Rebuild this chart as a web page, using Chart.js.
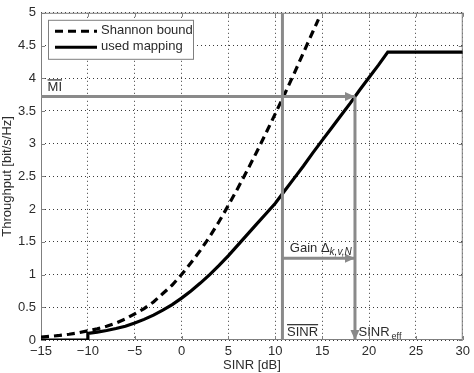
<!DOCTYPE html>
<html>
<head>
<meta charset="utf-8">
<script src="https://cdn.jsdelivr.net/npm/chart.js@4.4.0/dist/chart.umd.min.js"></script>
<style>
  html, body { margin: 0; padding: 0; background: #fff; }
</style>
</head>
<body>
<canvas id="throughputChart" width="474" height="373"></canvas>
<script>
// Shannon bound (dashed)
const shannonSinr = [-15, -14, -13, -12, -11, -10, -9, -8, -7, -6, -5, -4, -3, -2, -1, 0,
  1, 2, 3, 4, 5, 6, 7, 8, 9, 10, 11, 12, 13, 14, 14.6];
const shannonThroughput = [0.045, 0.056, 0.07, 0.088, 0.11, 0.14, 0.17, 0.21, 0.26, 0.32, 0.4, 0.48, 0.58, 0.71, 0.84, 1.0,
  1.18, 1.37, 1.58, 1.81, 2.06, 2.32, 2.59, 2.87, 3.16, 3.46, 3.76, 4.07, 4.39, 4.71, 4.9];

// used mapping (solid)
const mappingSinr = [-15, -10, -10, -9, -8, -7, -6, -5, -4, -3, -2, -1, 0,
  1, 2, 3, 4, 5, 6, 7, 8, 9, 10, 11, 12, 13, 14, 15, 16, 17, 18, 19, 20, 21, 22, 30];
const mappingThroughput = [0, 0, 0.1, 0.12, 0.145, 0.175, 0.21, 0.26, 0.315, 0.38, 0.455, 0.54, 0.64,
  0.75, 0.87, 1.0, 1.14, 1.29, 1.45, 1.61, 1.77, 1.93, 2.09, 2.28, 2.47, 2.66, 2.86, 3.05, 3.24, 3.43, 3.62, 3.82, 4.01, 4.2, 4.4, 4.4];

// grey construction lines: mean MI level, mean SINR, effective SINR, gain arrow level
const miLevel = [3.72];
const sinrMean = [10.76];
const sinrEff = [18.5];
const gainLevel = [1.25];

const xTicks = [-15, -10, -5, 0, 5, 10, 15, 20, 25, 30];
const yTicks = [0, 0.5, 1, 1.5, 2, 2.5, 3, 3.5, 4, 4.5, 5];

const FONT = "'Liberation Sans', Arial, Helvetica, sans-serif";
const TXT = '#2b2b2b';
const GREY = '#8a8a8a';

const toPoints = (xs, ys) => xs.map((v, i) => ({ x: v, y: ys[i] }));

function greyLine(points) {
  return {
    label: '',
    data: points,
    borderColor: GREY,
    borderWidth: 3,
    pointRadius: 0,
    fill: false,
  };
}

function arrowHead(ctx, x, y, dir) {
  const len = 10, half = 4.5;
  ctx.beginPath();
  if (dir === 'right') {
    ctx.moveTo(x, y);
    ctx.lineTo(x - len, y - half);
    ctx.lineTo(x - len, y + half);
  } else {
    ctx.moveTo(x, y);
    ctx.lineTo(x - half, y - len);
    ctx.lineTo(x + half, y - len);
  }
  ctx.closePath();
  ctx.fill();
}

function overlined(ctx, text, x, y) {
  ctx.fillText(text, x, y);
  const w = ctx.measureText(text).width;
  ctx.fillRect(x, y - 12, w, 1.2);
}

const annotate = {
  id: 'annotate',
  beforeDatasetsDraw(chart) {
    const { ctx, chartArea: a, scales: { x, y } } = chart;
    ctx.save();
    ctx.strokeStyle = '#7f7f7f';
    ctx.lineWidth = 1;
    ctx.strokeRect(a.left + 0.5, a.top + 0.5, a.width - 1, a.height - 1);
    ctx.beginPath();
    xTicks.forEach(t => {
      const px = Math.round(x.getPixelForValue(t)) + 0.5;
      ctx.moveTo(px, a.bottom); ctx.lineTo(px, a.bottom - 4);
      ctx.moveTo(px, a.top); ctx.lineTo(px, a.top + 4);
    });
    yTicks.forEach(t => {
      const py = Math.round(y.getPixelForValue(t)) + 0.5;
      ctx.moveTo(a.left, py); ctx.lineTo(a.left + 4, py);
      ctx.moveTo(a.right, py); ctx.lineTo(a.right - 4, py);
    });
    ctx.stroke();
    ctx.restore();
  },
  afterDatasetsDraw(chart) {
    const { ctx, chartArea: a, scales: { x, y } } = chart;
    ctx.save();

    // arrow heads
    ctx.fillStyle = GREY;
    arrowHead(ctx, x.getPixelForValue(sinrEff[0]), y.getPixelForValue(miLevel[0]), 'right');
    arrowHead(ctx, x.getPixelForValue(sinrEff[0]), y.getPixelForValue(gainLevel[0]), 'right');
    arrowHead(ctx, x.getPixelForValue(sinrEff[0]), y.getPixelForValue(0), 'down');

    // labels
    ctx.fillStyle = TXT;
    ctx.font = '13px ' + FONT;
    ctx.textBaseline = 'alphabetic';
    overlined(ctx, 'MI', x.getPixelForValue(-14.3), y.getPixelForValue(3.8));

    let gx = x.getPixelForValue(11.55), gy = y.getPixelForValue(1.34);
    ctx.fillText('Gain \u0394', gx, gy);
    gx += ctx.measureText('Gain \u0394').width;
    ctx.font = 'italic 10px ' + FONT;
    ctx.fillText('k,v,N', gx, gy + 3);

    ctx.font = '13px ' + FONT;
    overlined(ctx, 'SINR', x.getPixelForValue(11.25), y.getPixelForValue(0.06));
    let ex = x.getPixelForValue(18.88), ey = y.getPixelForValue(0.06);
    ctx.fillText('SINR', ex, ey);
    ex += ctx.measureText('SINR').width + 2;
    ctx.font = '9px ' + FONT;
    ctx.fillText('eff', ex, ey + 3);

    // legend box
    const lx = a.left + 7, ly = a.top + 7;
    ctx.fillStyle = '#fff';
    ctx.fillRect(lx, ly, 145, 39);
    ctx.strokeStyle = '#7f7f7f';
    ctx.lineWidth = 1;
    ctx.strokeRect(lx + 0.5, ly + 0.5, 145, 39);
    ctx.strokeStyle = '#000';
    ctx.lineWidth = 3;
    ctx.setLineDash([8, 5]);
    ctx.beginPath(); ctx.moveTo(lx + 7, ly + 11.5); ctx.lineTo(lx + 49, ly + 11.5); ctx.stroke();
    ctx.setLineDash([]);
    ctx.beginPath(); ctx.moveTo(lx + 7, ly + 27.5); ctx.lineTo(lx + 49, ly + 27.5); ctx.stroke();
    ctx.fillStyle = TXT;
    ctx.font = '13px ' + FONT;
    ctx.textBaseline = 'middle';
    ctx.fillText('Shannon bound', lx + 53, ly + 11);
    ctx.fillText('used mapping', lx + 53, ly + 27);
    ctx.restore();
  }
};

const label = v => String(+Number(v).toFixed(1)).replace('-', '\u2212');

new Chart(document.getElementById('throughputChart').getContext('2d'), {
  type: 'line',
  data: {
    datasets: [
      greyLine(toPoints([-15, sinrEff[0]], [miLevel[0], miLevel[0]])),
      greyLine(toPoints([sinrMean[0], sinrMean[0]], [0, 5])),
      greyLine(toPoints([sinrEff[0], sinrEff[0]], [miLevel[0], 0])),
      greyLine(toPoints([sinrMean[0], sinrEff[0]], [gainLevel[0], gainLevel[0]])),
      {
        label: 'Shannon bound',
        data: toPoints(shannonSinr, shannonThroughput),
        borderColor: '#000',
        borderWidth: 3.2,
        borderDash: [8, 5],
        pointRadius: 0,
        tension: 0,
        fill: false,
      },
      {
        label: 'used mapping',
        data: toPoints(mappingSinr, mappingThroughput),
        borderColor: '#000',
        borderWidth: 3.2,
        pointRadius: 0,
        tension: 0,
        fill: false,
      },
    ],
  },
  options: {
    responsive: false,
    animation: false,
    devicePixelRatio: 1,
    layout: { padding: { top: 5, right: 8, left: 0, bottom: 0 } },
    plugins: { legend: { display: false }, tooltip: { enabled: false } },
    scales: {
      x: {
        type: 'linear',
        min: -15,
        max: 30,
        afterBuildTicks: s => { s.ticks = xTicks.map(v => ({ value: v })); },
        afterFit: s => { s.height = 33; },
        ticks: { color: TXT, font: { family: FONT, size: 13 }, padding: 4, maxRotation: 0, callback: v => label(v) },
        grid: { color: '#3a3a3a', lineWidth: 1, drawTicks: false },
        border: { display: false, dash: [1, 3] },
        title: { display: true, text: 'SINR [dB]', color: TXT, font: { family: FONT, size: 13 }, padding: 0 },
      },
      y: {
        min: 0,
        max: 5,
        afterBuildTicks: s => { s.ticks = yTicks.map(v => ({ value: v })); },
        afterFit: s => { s.width = 41; },
        ticks: { color: TXT, font: { family: FONT, size: 13 }, padding: 5, callback: v => label(v) },
        grid: { color: '#3a3a3a', lineWidth: 1, drawTicks: false },
        border: { display: false, dash: [1, 3] },
        title: { display: true, text: 'Throughput [bit/s/Hz]', color: TXT, font: { family: FONT, size: 13 }, padding: 0 },
      },
    },
  },
  plugins: [annotate],
});
</script>
</body>
</html>
